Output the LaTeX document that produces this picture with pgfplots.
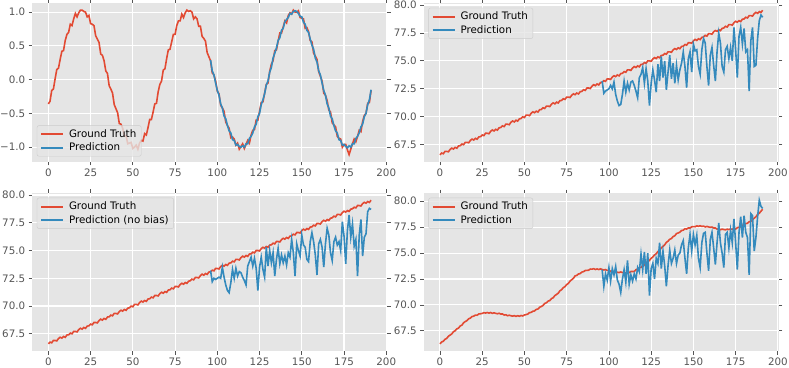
\documentclass[border=0pt]{standalone}
\usepackage{fontspec}
\setmainfont{DejaVu Sans}
\usepackage{pgfplots}
\usepackage{pgfplotstable}
\pgfplotsset{compat=1.18}
\definecolor{ggred}{HTML}{E24A33}
\definecolor{ggblue}{HTML}{348ABD}
\definecolor{ggbg}{HTML}{E5E5E5}
\definecolor{gglab}{HTML}{555555}
\definecolor{ggedge}{HTML}{CCCCCC}

\pgfplotsset{
  gg/.style={
    scale only axis, width=355pt, height=159pt,
    xmin=-9.55, xmax=200.55,
    axis background/.style={fill=ggbg},
    axis line style={draw=none},
    xmajorgrids, ymajorgrids,
    major grid style={white, line width=1.1pt},
    tick align=outside, major tick length=3.5pt,
    tick style={gglab, line width=0.8pt},
    xtick={0,25,...,200},
    xticklabels={0,25,50,75,100,125,150,175,200},
    tick label style={font=\fontsize{10.3}{12}\selectfont, text=gglab},
    legend cell align=left,
    legend image code/.code={\draw[##1,line width=2pt] (0pt,0pt) -- (22pt,0pt);},
    legend style={fill=ggbg, fill opacity=0.8, text opacity=1, draw=ggedge,
      rounded corners=2pt, font=\fontsize{10.3}{12}\selectfont,
      inner xsep=3pt, inner ysep=2pt, row sep=0pt,
      /tikz/every odd column/.append style={column sep=3pt}},
  },
  lin/.style={ymin=65.95, ymax=80.18,
    ytick={67.5,70,72.5,75,77.5,80},
    yticklabels={67.5,70.0,72.5,75.0,77.5,80.0}},
  gt/.style={color=ggred, line width=1.6pt},
  pr/.style={color=ggblue, line width=1.6pt},
}

\pgfplotstableread[header=false,row sep=\\]{
66.60\\66.75\\66.69\\66.90\\66.90\\66.86\\67.07\\67.19\\67.11\\67.26\\
67.18\\67.39\\67.41\\67.56\\67.50\\67.71\\67.71\\67.67\\67.88\\68.00\\
67.92\\68.07\\67.99\\68.19\\68.22\\68.37\\68.31\\68.52\\68.52\\68.48\\
68.69\\68.82\\68.73\\68.88\\68.80\\69.01\\69.03\\69.18\\69.12\\69.34\\
69.33\\69.29\\69.50\\69.62\\69.54\\69.69\\69.61\\69.81\\69.84\\69.99\\
69.93\\70.15\\70.15\\70.10\\70.31\\70.44\\70.36\\70.50\\70.42\\70.63\\
70.65\\70.80\\70.74\\70.95\\70.95\\70.91\\71.12\\71.24\\71.16\\71.31\\
71.23\\71.44\\71.46\\71.61\\71.55\\71.76\\71.76\\71.72\\71.93\\72.05\\
71.97\\72.12\\72.04\\72.24\\72.27\\72.42\\72.36\\72.57\\72.57\\72.53\\
72.74\\72.87\\72.78\\72.93\\72.85\\73.06\\73.08\\73.23\\73.17\\73.39\\
73.38\\73.34\\73.55\\73.67\\73.59\\73.74\\73.66\\73.86\\73.89\\74.04\\
73.98\\74.20\\74.20\\74.15\\74.36\\74.49\\74.41\\74.55\\74.47\\74.68\\
74.70\\74.85\\74.79\\75.00\\75.00\\74.96\\75.17\\75.29\\75.21\\75.36\\
75.28\\75.49\\75.51\\75.66\\75.60\\75.81\\75.81\\75.77\\75.98\\76.10\\
76.02\\76.17\\76.09\\76.29\\76.32\\76.47\\76.41\\76.62\\76.62\\76.58\\
76.79\\76.92\\76.83\\76.98\\76.90\\77.11\\77.13\\77.28\\77.22\\77.44\\
77.43\\77.39\\77.60\\77.72\\77.64\\77.79\\77.71\\77.91\\77.94\\78.09\\
78.03\\78.25\\78.25\\78.20\\78.41\\78.54\\78.46\\78.60\\78.52\\78.73\\
78.75\\78.90\\78.84\\79.05\\79.05\\79.01\\79.22\\79.34\\79.26\\79.41\\
79.33\\79.53\\
}\gtlin

\pgfplotstableread[header=false,row sep=\\]{
-0.36\\-0.32\\-0.16\\-0.14\\0.01\\0.15\\0.17\\0.30\\0.42\\0.43\\
0.58\\0.67\\0.70\\0.82\\0.80\\0.90\\0.98\\0.93\\0.99\\1.03\\
1.03\\1.01\\1.00\\0.93\\0.95\\0.83\\0.82\\0.80\\0.65\\0.60\\
0.55\\0.38\\0.36\\0.28\\0.13\\0.09\\-0.09\\-0.14\\-0.20\\-0.37\\
-0.43\\-0.49\\-0.65\\-0.66\\-0.72\\-0.83\\-0.83\\-0.95\\-0.94\\-0.93\\
-1.02\\-1.00\\-0.97\\-1.03\\-0.94\\-0.90\\-0.91\\-0.80\\-0.82\\-0.71\\
-0.59\\-0.59\\-0.48\\-0.36\\-0.35\\-0.18\\-0.07\\-0.02\\0.14\\0.16\\
0.31\\0.44\\0.45\\0.56\\0.67\\0.67\\0.80\\0.87\\0.87\\0.97\\
0.92\\0.99\\1.03\\1.01\\1.02\\1.00\\0.90\\0.93\\0.90\\0.79\\
0.79\\0.64\\0.61\\0.57\\0.40\\0.34\\0.28\\0.10\\0.07\\-0.02\\
-0.17\\-0.21\\-0.38\\-0.42\\-0.47\\-0.63\\-0.68\\-0.72\\-0.86\\-0.85\\
-0.88\\-0.97\\-0.94\\-1.03\\-0.99\\-0.95\\-1.02\\-0.96\\-0.90\\-0.94\\
-0.82\\-0.75\\-0.74\\-0.60\\-0.60\\-0.47\\-0.34\\-0.33\\-0.20\\-0.07\\
-0.05\\0.12\\0.23\\0.28\\0.43\\0.44\\0.57\\0.69\\0.69\\0.78\\
0.87\\0.84\\0.95\\0.99\\0.97\\1.03\\1.00\\1.00\\1.02\\0.92\\
0.91\\0.90\\0.76\\0.77\\0.71\\0.58\\0.56\\0.39\\0.35\\0.30\\
0.12\\0.05\\-0.02\\-0.20\\-0.23\\-0.31\\-0.45\\-0.48\\-0.64\\-0.67\\
-0.70\\-0.84\\-0.87\\-0.88\\-1.00\\-0.96\\-0.96\\-1.04\\-1.11\\-1.03\\
-0.95\\-0.88\\-0.92\\-0.84\\-0.75\\-0.77\\-0.62\\-0.53\\-0.50\\-0.35\\
-0.34\\-0.16\\
}\gtsin

\pgfplotstableread[header=false,row sep=\\]{
0.29\\0.13\\0.07\\-0.05\\-0.16\\-0.23\\-0.36\\-0.42\\-0.54\\-0.58\\
-0.68\\-0.76\\-0.79\\-0.89\\-0.90\\-0.97\\-0.96\\-0.99\\-1.00\\-0.98\\
-1.00\\-0.95\\-0.95\\-0.87\\-0.84\\-0.79\\-0.70\\-0.66\\-0.55\\-0.50\\
-0.37\\-0.30\\-0.21\\-0.08\\-0.02\\0.11\\0.18\\0.32\\0.39\\0.47\\
0.58\\0.62\\0.73\\0.76\\0.86\\0.89\\0.92\\0.98\\0.97\\1.01\\
1.02\\1.01\\0.98\\0.94\\0.93\\0.85\\0.82\\0.73\\0.70\\0.60\\
0.51\\0.45\\0.32\\0.26\\0.13\\0.07\\-0.05\\-0.16\\-0.23\\-0.36\\
-0.42\\-0.54\\-0.58\\-0.68\\-0.76\\-0.79\\-0.89\\-0.90\\-0.97\\-0.96\\
-0.99\\-1.01\\-0.98\\-1.00\\-0.95\\-0.95\\-0.87\\-0.84\\-0.79\\-0.70\\
-0.66\\-0.55\\-0.50\\-0.37\\-0.30\\-0.15\\
}\prsin

\pgfplotstableread[header=false,row sep=\\]{
73.2\\72.1\\72.3\\72.4\\72.5\\72.8\\72.5\\73.1\\72.0\\71.4\\
71.0\\71.1\\72.0\\73.2\\72.2\\73.0\\72.4\\73.1\\73.2\\72.8\\
72.3\\71.7\\73.5\\73.8\\74.4\\73.0\\74.3\\73.2\\71.0\\73.0\\
74.2\\73.3\\72.2\\74.7\\73.2\\75.4\\73.5\\75.0\\72.4\\74.0\\
75.5\\73.4\\74.8\\73.0\\74.6\\73.3\\74.2\\74.8\\75.8\\74.5\\
72.6\\75.2\\75.8\\74.0\\76.5\\75.9\\76.0\\74.5\\73.8\\76.0\\
77.0\\76.6\\74.5\\72.8\\75.5\\76.2\\74.6\\73.2\\75.8\\77.5\\
76.6\\74.5\\74.0\\76.0\\76.3\\75.2\\76.2\\75.0\\78.0\\76.0\\
73.5\\77.2\\78.0\\76.5\\77.9\\75.8\\76.0\\72.3\\76.8\\78.0\\
74.5\\74.6\\77.0\\78.6\\79.1\\78.9\\
}\prone

\pgfplotstableread[header=false,row sep=\\]{
73.2\\72.2\\72.5\\72.4\\72.5\\72.6\\72.5\\73.5\\72.6\\71.9\\
71.4\\71.2\\72.1\\73.3\\72.5\\73.4\\72.7\\73.1\\73.0\\72.6\\
72.3\\71.9\\73.6\\74.0\\74.4\\73.6\\74.3\\73.4\\71.4\\73.5\\
74.4\\73.3\\72.6\\75.3\\73.6\\75.0\\73.9\\74.8\\72.7\\74.2\\
75.2\\73.8\\74.6\\73.9\\74.5\\73.7\\74.8\\74.4\\76.0\\74.8\\
72.7\\75.6\\75.0\\74.5\\76.4\\75.5\\75.3\\74.2\\74.0\\75.8\\
76.6\\75.8\\74.6\\72.8\\75.6\\76.0\\75.3\\73.5\\75.6\\77.0\\
76.4\\74.8\\74.1\\75.8\\76.2\\75.5\\75.8\\75.0\\77.6\\76.3\\
73.8\\76.8\\78.2\\76.2\\77.4\\75.4\\76.0\\72.7\\76.4\\77.8\\
74.5\\76.2\\76.5\\78.5\\78.8\\78.7\\
}\prtwo

\pgfplotstableread[header=false,row sep=\\]{
66.25\\66.43\\66.50\\66.69\\66.77\\66.98\\67.09\\67.21\\67.42\\67.51\\
67.69\\67.77\\67.97\\68.06\\68.28\\68.40\\68.49\\68.67\\68.73\\68.88\\
68.92\\69.02\\69.01\\69.13\\69.15\\69.18\\69.26\\69.22\\69.27\\69.21\\
69.27\\69.19\\69.24\\69.19\\69.15\\69.20\\69.12\\69.13\\69.03\\69.05\\
68.96\\69.01\\68.96\\68.92\\68.97\\68.90\\68.96\\68.91\\68.98\\68.94\\
69.03\\69.07\\69.12\\69.26\\69.28\\69.39\\69.42\\69.57\\69.61\\69.78\\
69.85\\69.95\\70.14\\70.21\\70.37\\70.42\\70.61\\70.69\\70.90\\71.01\\
71.13\\71.36\\71.47\\71.67\\71.76\\71.97\\72.07\\72.30\\72.43\\72.57\\
72.80\\72.85\\72.99\\73.02\\73.17\\73.21\\73.32\\73.33\\73.35\\73.46\\
73.45\\73.49\\73.42\\73.47\\73.41\\73.48\\73.42\\73.37\\73.41\\73.33\\
73.34\\73.24\\73.26\\73.17\\73.21\\73.15\\73.12\\73.18\\73.12\\73.15\\
73.07\\73.15\\73.12\\73.22\\73.22\\73.23\\73.40\\73.45\\73.59\\73.62\\
73.77\\73.85\\74.06\\74.17\\74.29\\74.50\\74.62\\74.83\\74.93\\75.15\\
75.26\\75.50\\75.64\\75.79\\76.03\\76.15\\76.33\\76.40\\76.59\\76.67\\
76.88\\76.94\\77.01\\77.17\\77.21\\77.34\\77.32\\77.42\\77.41\\77.53\\
77.55\\77.54\\77.62\\77.58\\77.63\\77.57\\77.60\\77.52\\77.57\\77.52\\
77.48\\77.51\\77.42\\77.42\\77.31\\77.32\\77.25\\77.31\\77.27\\77.24\\
77.30\\77.27\\77.33\\77.28\\77.35\\77.31\\77.45\\77.49\\77.54\\77.68\\
77.70\\77.84\\77.87\\78.02\\78.06\\78.23\\78.36\\78.50\\78.73\\78.84\\
79.04\\79.22\\
}\gtwave

\pgfplotstableread[header=false,row sep=\\]{
73.4\\71.8\\73.0\\72.4\\73.6\\72.3\\73.5\\72.9\\73.7\\72.4\\
72.0\\71.2\\72.5\\73.4\\72.2\\74.3\\72.0\\72.9\\72.3\\73.0\\
72.5\\73.6\\73.2\\74.9\\73.4\\75.1\\73.0\\75.0\\70.9\\73.5\\
74.0\\72.5\\74.5\\74.0\\76.0\\73.5\\75.2\\73.8\\71.8\\73.8\\
75.3\\74.0\\74.5\\75.3\\74.0\\74.8\\75.0\\75.8\\76.2\\74.5\\
73.0\\75.5\\76.8\\75.2\\76.8\\75.8\\76.7\\74.5\\73.6\\76.0\\
76.9\\77.0\\75.0\\73.3\\76.3\\77.0\\75.5\\73.9\\76.0\\77.9\\
76.0\\75.0\\73.6\\76.8\\77.0\\75.5\\77.2\\76.0\\78.3\\76.0\\
73.4\\77.0\\78.5\\76.5\\78.6\\77.0\\76.5\\72.9\\78.8\\78.6\\
75.2\\76.5\\78.5\\80.1\\79.5\\79.3\\
}\prthree

\begin{document}
\begin{tikzpicture}
\useasboundingbox (0,0) rectangle (789pt,367pt);

% top left
\begin{axis}[gg, at={(32.2pt,205pt)}, anchor=south west,
  ymin=-1.22, ymax=1.135,
  ytick={-1,-0.5,0,0.5,1},
  yticklabels={−1.0,−0.5,0.0,0.5,1.0},
  legend style={at={(0.013,0.035)}, anchor=south west}]
\addplot[gt] table[x expr=\coordindex, y index=0] {\gtsin};
\addlegendentry{Ground Truth}
\addplot[pr] table[x expr=\coordindex+96, y index=0] {\prsin};
\addlegendentry{Prediction}
\end{axis}

% top right
\begin{axis}[gg, lin, at={(423.8pt,205pt)}, anchor=south west,
  legend style={at={(0.013,0.97)}, anchor=north west}]
\addplot[gt] table[x expr=\coordindex, y index=0] {\gtlin};
\addlegendentry{Ground Truth}
\addplot[pr] table[x expr=\coordindex+96, y index=0] {\prone};
\addlegendentry{Prediction}
\end{axis}

% bottom left
\begin{axis}[gg, lin, height=158pt, at={(32.2pt,16pt)}, anchor=south west,
  legend style={at={(0.013,0.97)}, anchor=north west}]
\addplot[gt] table[x expr=\coordindex, y index=0] {\gtlin};
\addlegendentry{Ground Truth}
\addplot[pr] table[x expr=\coordindex+96, y index=0] {\prtwo};
\addlegendentry{Prediction (no bias)}
\end{axis}

% bottom right
\begin{axis}[gg, height=158pt, at={(423.8pt,16pt)}, anchor=south west,
  ymin=65.56, ymax=80.79,
  ytick={67.5,70,72.5,75,77.5,80},
  yticklabels={67.5,70.0,72.5,75.0,77.5,80.0},
  legend style={at={(0.013,0.97)}, anchor=north west}]
\addplot[gt] table[x expr=\coordindex, y index=0] {\gtwave};
\addlegendentry{Ground Truth}
\addplot[pr] table[x expr=\coordindex+96, y index=0] {\prthree};
\addlegendentry{Prediction}
\end{axis}
\end{tikzpicture}
\end{document}
